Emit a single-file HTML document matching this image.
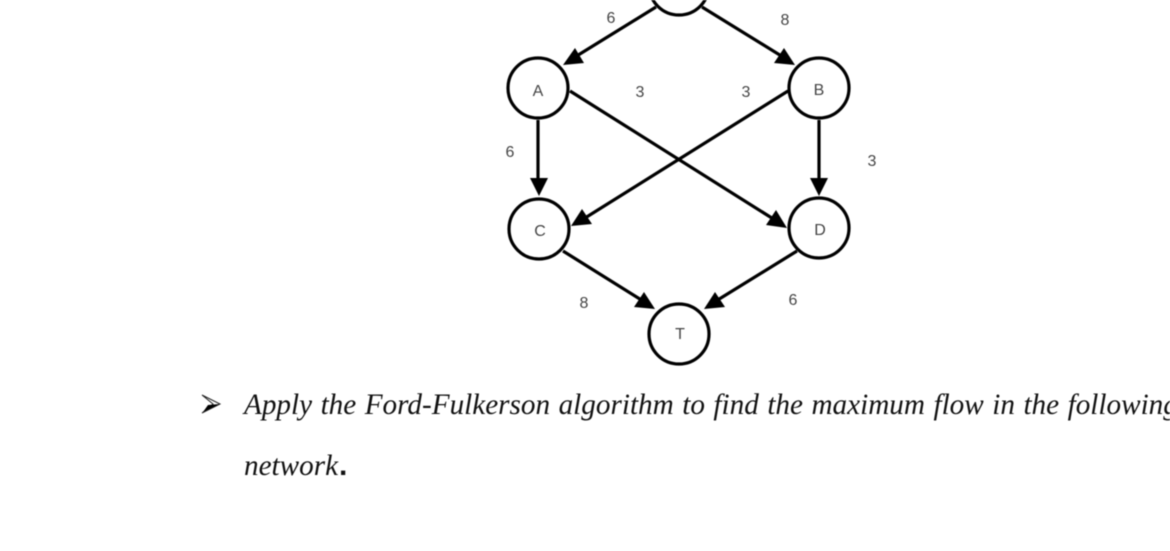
<!DOCTYPE html>
<html><head><meta charset="utf-8"><style>
html,body{margin:0;padding:0;background:#fff;width:1170px;height:551px;overflow:hidden}
svg{display:block;filter:blur(.6px)}
.l{font-family:"Liberation Sans",sans-serif;font-size:16px;fill:#444;text-anchor:middle}
.t{font-family:"Liberation Serif",serif;font-style:italic;font-size:29.2px;fill:#111}
.w{word-spacing:1.2px}
</style></head><body>
<svg width="1170" height="551" viewBox="0 0 1170 551">
<g fill="none" stroke="#000" stroke-width="3.2">
<circle cx="679" cy="-15" r="30"/>
<circle cx="538" cy="88" r="30"/>
<circle cx="819" cy="88" r="30"/>
<circle cx="539" cy="229" r="30"/>
<circle cx="819" cy="228" r="30"/>
<circle cx="679" cy="334" r="30"/>
<path d="M656 7L575 57M702 7L783 57M538 120V182M819 120V182M570 91L775 220M788 91L585 218M563 251L643 301M797 251L716 301"/>
</g>
<g fill="#000">
<polygon points="563,65 575,48 584,63"/>
<polygon points="795,65 774,63 784,48"/>
<polygon points="539,196 530,178 548,178"/>
<polygon points="819,196 810,178 828,178"/>
<polygon points="787,228 766,225 776,210"/>
<polygon points="571,226 582,209 592,224"/>
<polygon points="655,309 634,307 644,292"/>
<polygon points="704,309 715,292 725,307"/>
</g>
<g>
<text class="l" x="611" y="23">6</text>
<text class="l" x="785" y="25">8</text>
<text class="l" x="538" y="96">A</text>
<text class="l" x="819" y="95">B</text>
<text class="l" x="640" y="97">3</text>
<text class="l" x="746" y="97">3</text>
<text class="l" x="510" y="157">6</text>
<text class="l" x="872" y="166">3</text>
<text class="l" x="540" y="236">C</text>
<text class="l" x="820" y="235">D</text>
<text class="l" x="584" y="308">8</text>
<text class="l" x="793" y="305">6</text>
<text class="l" x="680" y="339">T</text>
</g>
<polygon points="202,395 220,404 202,413 213,404" fill="none" stroke="#222" stroke-width="1"/>
<polygon points="203,412 220,404 208,405" fill="#000"/>
<text class="t w" x="244" y="414">Apply the Ford-Fulkerson algorithm to find the maximum flow in the following</text>
<text class="t" x="244" y="475">network<tspan x="339" font-family="Liberation Sans" font-style="normal" font-weight="bold" font-size="30">.</tspan></text>
</svg>
</body></html>
